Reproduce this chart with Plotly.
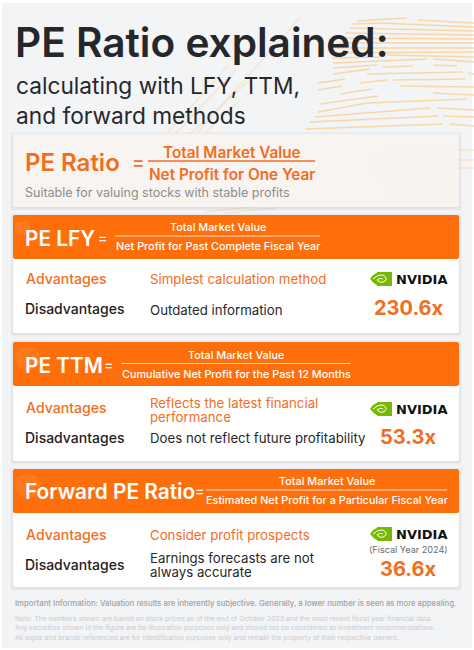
import plotly.graph_objects as go

# text content
title = "PE Ratio explained:"
subtitle = ["calculating with LFY, TTM,", "and forward methods"]
main_name = "PE Ratio"
main_num = "Total Market Value"
main_den = "Net Profit for One Year"
main_note = "Suitable for valuing stocks with stable profits"

panel_names = ["PE LFY", "PE TTM", "Forward PE Ratio"]
panel_num = ["Total Market Value", "Total Market Value", "Total Market Value"]
panel_den = ["Net Profit for Past Complete Fiscal Year",
             "Cumulative Net Profit for the Past 12 Months",
             "Estimated Net Profit for a Particular Fiscal Year"]
adv_text = [["Simplest calculation method"],
            ["Reflects the latest financial", "performance"],
            ["Consider profit prospects"]]
dis_text = [["Outdated information"],
            ["Does not reflect future profitability"],
            ["Earnings forecasts are not", "always accurate"]]
pe_values = [230.6, 53.3, 36.6]
pe_notes = ["", "", "(Fiscal Year 2024)"]

footer_main = "Important Information: Valuation results are inherently subjective. Generally, a lower number is seen as more appealing."
footer_notes = ["Note: The numbers shown are based on stock prices as of the end of October 2023 and the most recent fiscal year financial data.",
                "Any securities shown in the figure are for illustration purposes only and should not be considered as investment recommendations.",
                "All logos and brands referenced are for identification purposes only and remain the property of their respective owners."]

# globe streaks behind the title, each one x0, y0, x1, y1
globe_lines = [(357, 21, 407, 18), (418, 20, 474, 23), (352, 24, 380, 23), (380, 23, 474, 27),
               (350, 28, 474, 31), (345, 33, 474, 35), (343, 38, 474, 39), (338, 43, 474, 43),
               (335, 48, 474, 48), (333, 53, 474, 52), (332, 58, 380, 57), (387, 55, 474, 57),
               (333, 63, 427, 59), (433, 59, 474, 62), (333, 68, 377, 65), (383, 67, 413, 66),
               (433, 65, 457, 66), (333, 74, 370, 69), (367, 74, 463, 72), (468, 73, 474, 74),
               (318, 83, 345, 79), (360, 83, 387, 80), (393, 80, 465, 79), (318, 90, 342, 86),
               (400, 86, 474, 87), (340, 94, 372, 89), (433, 93, 474, 95), (320, 104, 378, 96),
               (318, 112, 367, 103), (367, 103, 467, 99), (315, 117, 430, 108), (437, 108, 474, 110),
               (310, 122, 438, 116), (443, 116, 474, 117), (305, 129, 443, 124), (450, 124, 474, 126)]
globe_faint = [(168, 132, 228, 66), (176, 133, 236, 70), (190, 134, 250, 80), (198, 132, 300, 18),
               (205, 133, 240, 100), (205, 212, 272, 205), (225, 213, 276, 208),
               (385, 150, 474, 150), (375, 160, 474, 160), (372, 168, 474, 168),
               (378, 178, 460, 178), (385, 188, 450, 188), (385, 197, 450, 197)]

ORANGE = "#fe6f0c"
TEXT_ORANGE = "#f36d1e"
DARK = "#26272b"
FONT = "Inter"

fig = go.Figure()


def segs(lines):
    xs, ys = [], []
    for x0, y0, x1, y1 in lines:
        xs += [x0, x1, None]
        ys += [y0, y1, None]
    return xs, ys


x, y = segs(globe_faint)
fig.add_trace(go.Scatter(x=x, y=y, mode="lines", hoverinfo="skip",
                         line=dict(color="rgba(250,205,145,0.4)", width=1.3)))
x, y = segs(globe_lines)
fig.add_trace(go.Scatter(x=x, y=y, mode="lines", hoverinfo="skip",
                         line=dict(color="rgba(250,205,140,0.75)", width=1.3)))

shapes = []


def rect(x0, y0, x1, y1, color, layer="above", r=2):
    path = (f"M {x0+r},{y0} L {x1-r},{y0} Q {x1},{y0} {x1},{y0+r} L {x1},{y1-r} Q {x1},{y1} {x1-r},{y1} "
            f"L {x0+r},{y1} Q {x0},{y1} {x0},{y1-r} L {x0},{y0+r} Q {x0},{y0} {x0+r},{y0} Z")
    shapes.append(dict(type="path", path=path, fillcolor=color, line_width=0, layer=layer))


def line(x0, x1, y0, color, w=1):
    shapes.append(dict(type="line", x0=x0, x1=x1, y0=y0, y1=y0, layer="above",
                       line=dict(color=color, width=w)))


def label(x, y, text, size, color, weight=400, anchor="left", family=FONT):
    # annotation box adds about 1px before the text
    if anchor == "left":
        x = x - 1
    fig.add_annotation(x=x, y=y, text=text, showarrow=False, xanchor=anchor, yanchor="middle",
                       xref="x", yref="y", align=anchor, borderpad=0,
                       font=dict(family=family, size=size, color=color, weight=weight))


def shadow(x0, y0, x1, y1):
    for d, a in [(3, 0.03), (2, 0.04), (1, 0.05)]:
        rect(x0-d, y0-d+1, x1+d, y1+d+1, f"rgba(90,100,120,{a})", r=3)


def logo(cx, cy):
    shapes.append(dict(type="path", layer="above", fillcolor="#76b900", line_width=0,
                       path=f"M {cx-4},{cy-7} L {cx+11},{cy-7} L {cx+11},{cy+7} L {cx-3},{cy+7} "
                            f"Q {cx-8},{cy+4} {cx-11},{cy} Q {cx-8},{cy-5} {cx-4},{cy-6} Z"))
    shapes.append(dict(type="path", layer="above", line=dict(color="white", width=1),
                       path=f"M {cx-8},{cy} Q {cx-3},{cy-5} {cx+2},{cy-4} Q {cx+7},{cy-1} {cx+4},{cy+2} "
                            f"Q {cx},{cy+5} {cx-4},{cy+1} Q {cx-1},{cy-2} {cx+2},{cy}"))
    label(cx+15, cy, "NVIDIA", 13, "#111111", 700, family="DejaVu Sans")


# page background
rect(2, 3, 472, 648, "#f3f4f6", layer="below", r=0)

# title block
label(15, 42, title, 40.6, DARK, 600)
label(16, 85, subtitle[0], 22.7, DARK, 400)
label(16, 115, subtitle[1], 22.7, DARK, 400)

# main formula card
shadow(13, 134, 459, 207)
rect(13, 134, 459, 207, "rgba(249,246,242,0.9)")
label(25, 162, main_name, 24, TEXT_ORANGE, 600)
label(132, 162, "=", 19, TEXT_ORANGE, 500)
label(232, 152, main_num, 15.3, TEXT_ORANGE, 600, "center")
line(148, 315, 161, TEXT_ORANGE, 1.3)
label(232, 174, main_den, 15.3, TEXT_ORANGE, 600, "center")
label(25, 192, main_note, 12.5, "#8d8d8d", 400)

# panels, all pixel positions per panel
panel_y = [(215, 259, 333), (342, 386, 461), (469, 513, 587)]
eq_x = [98, 104, 195]
frac_x = [(115, 320), (121, 351), (206, 447)]
head_y = [238, 365, 491]
num_y = [227, 355, 481]
rule_y = [236, 363.5, 490]
den_y = [246, 374, 500]
adv_y = [278.5, 407.5, 534.5]
dis_y = [308.5, 437.5, 564.5]
adv_lines_y = [[279], [403, 417], [535]]
dis_lines_y = [[310], [438], [558, 572]]
logo_y = [279, 409, 534]
value_y = [308, 437, 569]

for i, name in enumerate(panel_names):
    top, mid, bot = panel_y[i]
    shadow(13, top, 459, bot)
    rect(13, top, 459, bot, "#ffffff")
    rect(13, top, 459, mid, ORANGE)
    if i == 0:
        rect(15, top+7, 30, top+20, "rgba(255,150,70,0.25)")
    else:
        shapes.append(dict(type="circle", x0=15, x1=40, y0=top+4, y1=top+29, layer="above",
                           fillcolor="rgba(255,150,70,0.25)", line_width=0))
    label(24.5, head_y[i], name, 20.8, "#ffffff", 600)
    label(eq_x[i], head_y[i]-1, "=", 14, "#ffffff", 500)
    cx = sum(frac_x[i]) / 2
    label(cx, num_y[i], panel_num[i], 10.85, "#ffffff", 500, "center")
    line(frac_x[i][0], frac_x[i][1], rule_y[i], "#ffffff", 0.8)
    label(cx, den_y[i], panel_den[i], 10.85, "#ffffff", 500, "center")
    label(26, adv_y[i], "Advantages", 14.1, TEXT_ORANGE, 500)
    label(25, dis_y[i], "Disadvantages", 14, "#1f2024", 500)
    for t, ty in zip(adv_text[i], adv_lines_y[i]):
        label(150, ty, t, 13.25, TEXT_ORANGE, 400)
    for t, ty in zip(dis_text[i], dis_lines_y[i]):
        label(150, ty, t, 13.25, "#26272b", 400)
    logo(381, logo_y[i])
    if pe_notes[i]:
        label(408, 549, pe_notes[i], 9.1, "#666a70", 400, "center")
    label(408, value_y[i], f"{pe_values[i]}x", 20, TEXT_ORANGE, 700, "center")

# footer
label(14.5, 603, footer_main, 7.75, "#a0a2a6", 500)
for t, ty in zip(footer_notes, [618, 627.5, 637]):
    label(14.5, ty, t, 6.8, "#c9cbcf", 400)

fig.update_layout(width=474, height=650, margin=dict(l=0, r=0, t=0, b=0), showlegend=False,
                  paper_bgcolor="#ffffff", plot_bgcolor="rgba(0,0,0,0)", shapes=shapes)
fig.update_xaxes(range=[0, 474], visible=False, fixedrange=True)
fig.update_yaxes(range=[650, 0], visible=False, fixedrange=True)

# page default body margin would push the 474 wide figure off the window
fig.write_html("out.html", config={"displayModeBar": False},
               post_script="document.body.style.margin='0';document.body.style.overflow='hidden';")
